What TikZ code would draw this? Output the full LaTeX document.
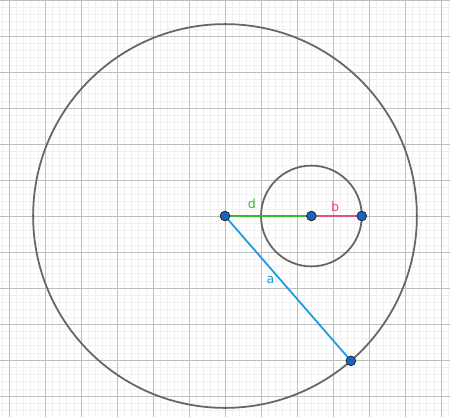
\documentclass[tikz,border=0pt]{standalone}
\usepackage{fontspec}
\setmainfont{DejaVu Sans}
\definecolor{circgray}{HTML}{666666}
\definecolor{dgreen}{HTML}{33BB33}
\definecolor{bpink}{HTML}{E0527A}
\definecolor{ablue}{HTML}{1E9BE0}
\definecolor{ptblue}{HTML}{1565C0}

\begin{document}
\begin{tikzpicture}[x=1cm,y=1cm,
  minorgrid/.style={draw=black!6,line width=0.4pt},
  majorgrid/.style={draw=black!25,line width=0.7pt},
  circ/.style={draw=circgray,line width=1.4pt},
  seg/.style={line width=1.4pt},
  lab/.style={font=\normalsize,inner sep=1pt}]
  \tikzstyle{pt} = [circle,draw=black!85,fill=ptblue,line width=0.6pt,inner sep=0pt,minimum size=2.7mm]
  \useasboundingbox (-6.25,-5.583) rectangle (6.25,6);
  \fill[white] (-6.25,-5.583) rectangle (6.25,6);
  % grid
  \draw[minorgrid] (-6.25,-5.583) grid[step=0.2] (6.25,6);
  \draw[majorgrid] (-6.25,-5.583) grid[step=1] (6.25,6);
  % circles
  \coordinate (O) at (0,0);
  \coordinate (M) at (2.4,0);
  \coordinate (B) at (3.8,0);
  \coordinate (A) at (-49:5.33);
  \draw[circ] (O) circle (5.33);
  \draw[circ] (M) circle (1.4);
  % segments
  \draw[seg,dgreen] (O) -- (M) node[lab,pos=0.31,above=4pt] {d};
  \draw[seg,bpink] (M) -- (B) node[lab,pos=0.47,above=2pt] {b};
  \draw[seg,ablue] (O) -- (A) node[lab,pos=0.44,left=3pt] {a};
  % points
  \node (pO) [pt] at (O) {};
  \node (pM) [pt] at (M) {};
  \node (pB) [pt] at (B) {};
  \node (pA) [pt] at (A) {};
\end{tikzpicture}
\end{document}
